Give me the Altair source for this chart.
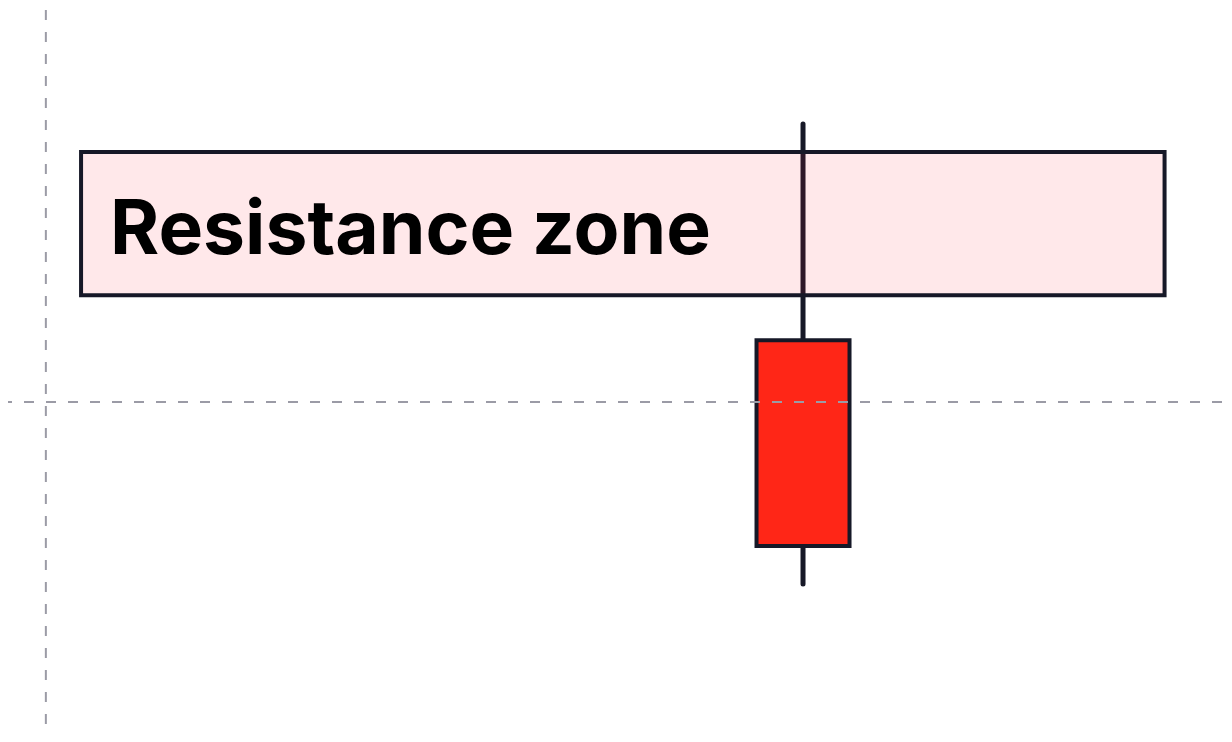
import altair as alt
import pandas as pd

# --- data ---
candle_t = [20]
candle_open = [106.17]
candle_high = [127.8]
candle_low = [81.8]
candle_close = [85.6]

zone_start = [0.93]
zone_end = [29.55]
zone_low = [110.67]
zone_high = [125.0]
zone_label = ["Resistance zone"]

cross_t = [0]
cross_price = [100]

X_DOMAIN = [-1, 31.12]
Y_DOMAIN = [66.8, 139.4]

DARK = "#161827"
RED = "#ff2617"
GRAY = "#9b9ba6"

candles = pd.DataFrame({"t": candle_t, "open": candle_open, "high": candle_high,
                        "low": candle_low, "close": candle_close})
zones = pd.DataFrame({"start": zone_start, "end": zone_end, "low": zone_low,
                      "high": zone_high, "label": zone_label})
zones["mid"] = (zones["low"] + zones["high"]) / 2
cross = pd.DataFrame({"t": cross_t, "price": cross_price})

xs = alt.Scale(domain=X_DOMAIN, nice=False, zero=False, padding=0)
ys = alt.Scale(domain=Y_DOMAIN, nice=False, zero=False, padding=0)

base_c = alt.Chart(candles)

wick = base_c.mark_rule(color=DARK, strokeWidth=5, strokeCap="round").encode(
    x=alt.X("t:Q", scale=xs, axis=None),
    y=alt.Y("low:Q", scale=ys, axis=None),
    y2="high:Q",
)

body = base_c.mark_bar(size=93, color=RED, stroke=DARK, strokeWidth=4).encode(
    x=alt.X("t:Q", scale=xs, axis=None),
    y=alt.Y("open:Q", scale=ys, axis=None),
    y2="close:Q",
)

zone_rect = alt.Chart(zones).mark_rect(
    fill="#ff1a33", fillOpacity=0.1, stroke=DARK, strokeWidth=4
).encode(
    x=alt.X("start:Q", scale=xs, axis=None),
    x2="end:Q",
    y=alt.Y("low:Q", scale=ys, axis=None),
    y2="high:Q",
)

zone_text = alt.Chart(zones).mark_text(
    align="left", baseline="alphabetic", font="Inter", fontWeight="bold",
    fontSize=75, color="#000000", dx=29, dy=30
).encode(
    x=alt.X("start:Q", scale=xs, axis=None),
    y=alt.Y("mid:Q", scale=ys, axis=None),
    text="label:N",
)

vline = alt.Chart(cross).mark_rule(
    color=GRAY, strokeWidth=2, strokeDash=[10, 12], strokeDashOffset=20
).encode(x=alt.X("t:Q", scale=xs, axis=None))

hline = alt.Chart(cross).mark_rule(
    color=GRAY, strokeWidth=2, strokeDash=[10, 12], strokeDashOffset=20
).encode(y=alt.Y("price:Q", scale=ys, axis=None))

chart = alt.layer(wick, body, zone_rect, zone_text, vline, hline).properties(
    width=1216, height=726, padding=0,
    autosize=alt.AutoSizeParams(type="none"),
    background="#ffffff",
).configure_view(stroke=None)

chart.save("out.html", embed_options={"renderer": "svg", "actions": False})
